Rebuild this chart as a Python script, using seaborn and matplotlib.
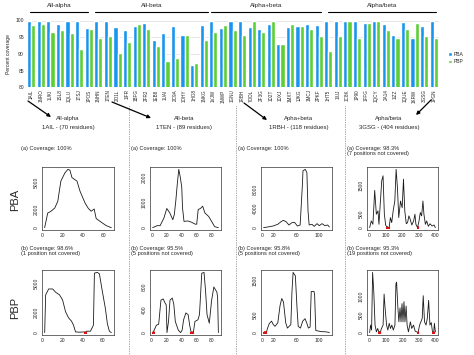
import numpy as np
import pandas as pd
import seaborn as sns
import matplotlib.pyplot as plt
from matplotlib.lines import Line2D

# ---- bar chart data (percent coverage per protein) ----
pdb_ids = ['1AIL', '1NRO', '1UKI', '1SL8', '1QLU', '1TSJ', '1POS',
           '1NHN', '1TEN', '2O1L', '1IFR', '1BFG', '2FR2', '1EB8', '1UAI', '2C9A', '1OHY', '1HO8', '1NKG',
           '1VJW', '1NWP', '1GNU', '1RBH', '7ODL', '2F3G', '1D2T', '1DXJ', '1MXT', '1JKG', '1MCJ', '2PKF',
           '1HT5', '1IUJ', '1C8K', '1P90', '1FFG', '1QCY', '2A14', '1IZZ', '1QUE', '1KRW', '3GSG', '1PGN']
pba_cov = [100, 100, 100, 98.9, 100, 100, 97.7,
           100, 100, 98.1, 97.1, 98.3, 99.2, 94.2, 96.4, 98.4, 95.8, 86.8, 98.7,
           100, 97.8, 100, 100, 98.0, 97.4, 98.9, 92.9, 98.0, 98.5, 99.0, 98.8,
           100, 100, 100, 100, 99.4, 100, 98.9, 95.8, 99.7, 94.7, 98.3, 100]
pbp_cov = [98.6, 99.0, 96.7, 97.1, 96.4, 91.6, 97.4,
           94.8, 95.5, 90.2, 93.6, 99.1, 97.4, 92.3, 87.9, 88.7, 95.8, 87.2, 94.3,
           96.5, 98.8, 97.3, 95.8, 99.8, 96.7, 100, 92.9, 99.0, 98.5, 97.6, 95.3,
           90.9, 95.4, 100, 94.9, 99.4, 100, 97.2, 94.9, 97.5, 99.4, 95.3, 94.7]
class_names = ['All-alpha', 'All-beta', 'Alpha+beta', 'Alpha/beta']

# ---- residue profiles (number of conformations per residue) ----
ail_pba_x = [2, 5, 8, 12, 15, 18, 22, 25, 27, 29, 34, 37, 42, 45, 48, 51, 53, 58, 63, 68]
ail_pba_y = [0, 1600, 1780, 2150, 2900, 5100, 6000, 6400, 6300, 5500, 5100, 4000, 2700, 2150, 1800, 2050, 1000, 600, 220, 0]
ail_pbp_x = [2, 3, 6, 10, 13, 17, 20, 23, 26, 29, 31, 33, 37, 42, 43, 44, 48, 51, 52, 55, 57, 60, 63, 65, 67, 69]
ail_pbp_y = [0, 3800, 4400, 4400, 4070, 3800, 3290, 2100, 1490, 1150, 750, 70, 40, 70, 0, 140, 140, 750, 6000, 6070, 5930, 4140, 2440, 915, 140, 0]

ten_pba_x = [1, 7, 11, 16, 20, 24, 28, 30, 32, 34, 36, 38, 40, 41, 43, 48, 53, 58, 60, 62, 65, 68, 71, 76, 80, 84, 89]
ten_pba_y = [0, 80, 80, 380, 770, 590, 320, 520, 1070, 1750, 2340, 2030, 1620, 800, 250, 270, 220, 140, 140, 730, 770, 860, 590, 450, 250, 40, 0]
ten_pbp_x = [2, 4, 7, 10, 13, 16, 18, 20, 21, 23, 25, 28, 30, 32, 36, 39, 41, 43, 46, 49, 51, 53, 56, 58, 62, 64, 67,
             70, 72, 74, 77, 80, 83, 87, 88, 89]
ten_pbp_y = [0, 42, 130, 145, 570, 590, 530, 485, 0, 195, 570, 605, 500, 195, 42, 0, 42, 225, 345, 315, 130, 0, 12, 195,
             225, 315, 1040, 1055, 740, 315, 165, 560, 800, 710, 620, 0]

rbh_pba_x = [2, 9, 19, 27, 33, 37, 42, 47, 52, 57, 62, 67, 71, 72, 76, 79, 81, 83, 88, 92, 97, 101, 106, 111, 116, 119]
rbh_pba_y = [0, 140, 350, 700, 1250, 1530, 1250, 560, 1020, 1120, 350, 560, 9000, 11900, 12200, 11500, 3500, 560, 700,
             280, 840, 420, 840, 420, 560, 140]
rbh_pbp_x = [2, 7, 9, 12, 16, 19, 22, 27, 31, 34, 37, 41, 44, 47, 50, 52, 54, 58, 61, 63, 67, 71, 75, 78, 81, 84, 86,
             91, 92, 94, 103, 113, 118]
rbh_pbp_y = [0, 20, 130, 260, 330, 230, 180, 280, 780, 980, 880, 280, 130, 180, 230, 1180, 1730, 1630, 680, 180, 130,
             330, 400, 280, 130, 160, 1180, 1180, 1080, 60, 30, 20, 0]

gsg_pba_x = [0, 10, 20, 31, 41, 51, 57, 66, 74, 82, 90, 98, 107, 119, 127, 135, 144, 154, 162, 170, 178, 189, 199, 207,
             215, 224, 232, 240, 248, 258, 269, 277, 283, 293, 302, 310, 318, 326, 332, 341, 349, 359, 369, 382, 394, 402]
gsg_pba_y = [0, 240, 120, 1330, 480, 600, 120, 950, 1670, 1850, 480, 95, 0, 0, 360, 180, 600, 950, 2080, 1430, 360,
             950, 710, 1730, 600, 140, 180, 420, 300, 95, 240, 480, 120, 0, 240, 540, 420, 950, 480, 120, 240, 48, 140,
             60, 95, 0]
gsg_pbp_x = [0, 6, 12, 18, 25, 33, 41, 49, 57, 64, 72, 82, 88, 94, 103, 111, 119, 127, 135, 144, 154, 160, 164, 172,
             178, 185, 191, 197, 203, 209, 215, 222, 228, 236, 242, 248, 256, 267, 277, 287, 295, 304, 312, 320, 326,
             334, 343, 351, 359, 367, 375, 383, 390, 394, 400]
gsg_pbp_y = [0, 210, 70, 1680, 1170, 210, 20, 115, 0, 0, 115, 210, 1075, 690, 210, 70, 260, 115, 210, 70, 210, 1360,
             1410, 690, 300, 690, 300, 810, 300, 865, 300, 740, 210, 20, 160, 300, 115, 210, 40, 20, 0, 210, 300, 400,
             1030, 300, 210, 400, 900, 210, 280, 0, 0, 260, 20]

# positions not covered (shown in red)
ail_pbp_miss = [43, 44]
ten_pbp_miss = [2, 3, 4, 53, 54, 55]
rbh_pbp_miss = [2, 3, 4, 5, 6, 7]
gsg_pba_miss = [105, 107, 119, 293, 296]
gsg_pbp_miss = [55, 57, 60, 62, 64, 293, 295, 297, 383, 385, 388, 390]

W, H = 474, 355
sns.set_style('white')
plt.rcParams['font.family'] = ['Liberation Sans', 'DejaVu Sans']
fig = plt.figure(figsize=(W / 100, H / 100), dpi=100)


def box(l, t, r, b):
    return [l / W, 1 - b / H, (r - l) / W, (b - t) / H]


def fx(x):
    return x / W


def fy(y):
    return 1 - y / H


# ---- top: grouped bar chart ----
df = pd.DataFrame({'pdb': pdb_ids * 2,
                   'cov': pba_cov + pbp_cov,
                   'method': ['PBA'] * len(pdb_ids) + ['PBP'] * len(pdb_ids)})
axb = fig.add_axes(box(26, 20.5, 439, 87.3))
sns.barplot(data=df, x='pdb', y='cov', hue='method', palette=['#1895f0', '#5ccf36'],
            saturation=1, width=0.86, gap=0, ax=axb, legend=True)
axb.set_ylim(80, 100)
axb.set_xlim(-0.55, len(pdb_ids) - 0.45)
axb.set_yticks([80, 85, 90, 95, 100])
axb.yaxis.grid(True, color='#dddddd', lw=0.5)
axb.set_axisbelow(True)
for s in axb.spines.values():
    s.set_visible(False)
axb.tick_params(axis='x', labelrotation=90, labelsize=3.3, length=0, pad=1.5)
axb.tick_params(axis='y', labelsize=3.6, length=0, pad=1.5)
axb.set_xlabel('')
axb.set_ylabel('Percent coverage', fontsize=3.6, labelpad=3)
leg = axb.legend(loc='upper left', bbox_to_anchor=(1.01, 0.6), frameon=False,
                 fontsize=3.6, handlelength=0.8, handleheight=0.8, handletextpad=0.4, labelspacing=0.5)

# class brackets above the bars
brackets = [(30, 88), (95, 208), (211, 321), (328, 436)]
for name, (x0, x1) in zip(class_names, brackets):
    fig.add_artist(Line2D([fx(x0), fx(x1)], [fy(12), fy(12)], color='black', lw=0.8))
    fig.text(fx((x0 + x1) / 2), fy(5.5), name, ha='center', va='center', fontsize=4.6)

# ---- column headers and arrows ----
headers = [('All-alpha', '1AIL - (70 residues)', 68),
           ('All-beta', '1TEN - (89 residues)', 184),
           ('Apha+beta', '1RBH - (118 residues)', 299),
           ('Apha/beta', '3GSG - (404 residues)', 389)]
for h1, h2, xc in headers:
    fig.text(fx(xc), fy(118.5), h1, ha='center', va='center', fontsize=4.3)
    fig.text(fx(xc), fy(127), h2, ha='center', va='center', fontsize=4.3)

arrows = [((28, 101), (51, 117)), ((112, 102), (151, 118)), ((244, 103), (267, 120)), ((431, 100), (416, 115))]
for (x0, y0), (x1, y1) in arrows:
    fig.add_artist(plt.Annotation('', xy=(fx(x1), fy(y1)), xytext=(fx(x0), fy(y0)),
                                  xycoords='figure fraction', textcoords='figure fraction',
                                  arrowprops=dict(arrowstyle='-|>', color='black', lw=0.9,
                                                  mutation_scale=5, shrinkA=0, shrinkB=0)))

for xd in [129, 236, 345]:
    fig.add_artist(Line2D([fx(xd), fx(xd)], [fy(106), fy(355)], color='#555555', lw=0.5, ls=(0, (1, 1.5))))

# ---- coverage texts ----
txt_x = [21, 131, 238, 347]
a_txt = ['(a) Coverage: 100%', '(a) Coverage: 100%', '(a) Coverage: 100%',
         '(a) Coverage: 98.3%\n(7 positions not covered)']
b_txt = ['(b) Coverage: 98.6%\n(1 position not covered)', '(b) Coverage: 95.5%\n(5 positions not covered)',
         '(b) Coverage: 95.8%\n(5 positions not covered)', '(b) Coverage: 95.3%\n(19 positions not covered)']
for x, ta, tb in zip(txt_x, a_txt, b_txt):
    fig.text(fx(x), fy(146), ta, ha='left', va='top', fontsize=4.1, linespacing=1.05)
    fig.text(fx(x), fy(246), tb, ha='left', va='top', fontsize=4.1, linespacing=1.05)

fig.text(fx(15), fy(200), 'PBA', rotation=90, ha='center', va='center', fontsize=8)
fig.text(fx(15), fy(308), 'PBP', rotation=90, ha='center', va='center', fontsize=8)

# ---- profile panels ----
cols = [(42, 114), (150, 221), (261, 332), (367, 438)]
rows = [(167, 230), (270, 335)]
profiles = [
    [(ail_pba_x, ail_pba_y, []), (ail_pbp_x, ail_pbp_y, ail_pbp_miss)],
    [(ten_pba_x, ten_pba_y, []), (ten_pbp_x, ten_pbp_y, ten_pbp_miss)],
    [(rbh_pba_x, rbh_pba_y, []), (rbh_pbp_x, rbh_pbp_y, rbh_pbp_miss)],
    [(gsg_pba_x, gsg_pba_y, gsg_pba_miss), (gsg_pbp_x, gsg_pbp_y, gsg_pbp_miss)],
]
xticks = [[0, 20, 40, 60], [0, 20, 40, 60, 80], [0, 20, 60, 100], [0, 100, 200, 300, 400]]
yticks = [[[0, 2000, 5000], [0, 2000, 5000]],
          [[0, 1000, 2000], [0, 400, 800]],
          [[0, 4000, 8000], [0, 500, 1500]],
          [[0, 500, 1500], [0, 500, 1000]]]

for ci, (l, r) in enumerate(cols):
    for ri, (t, b) in enumerate(rows):
        xs, ys, miss = profiles[ci][ri]
        ax = fig.add_axes(box(l, t, r, b))
        sns.lineplot(x=xs, y=ys, ax=ax, color='#1a1a1a', lw=0.6, sort=False, estimator=None)
        if miss:
            ymax = max(ys)
            sns.scatterplot(x=miss, y=[0] * len(miss), ax=ax, color='#dd1111', marker='s',
                            s=2.5, linewidth=0, zorder=5)
            ax.vlines(miss, 0, 0.03 * ymax, color='#dd1111', lw=0.8, zorder=5)
        ax.margins(x=0.04, y=0.04)
        ax.set_xticks(xticks[ci])
        ax.set_yticks(yticks[ci][ri])
        ax.tick_params(axis='both', labelsize=3.6, length=1.5, width=0.4, pad=1, direction='out')
        ax.tick_params(axis='y', labelrotation=90)
        for lab in ax.get_yticklabels():
            lab.set_va('center')
        for s in ax.spines.values():
            s.set_linewidth(0.5)
            s.set_color('#333333')

fig.savefig('out.png', dpi=100)
